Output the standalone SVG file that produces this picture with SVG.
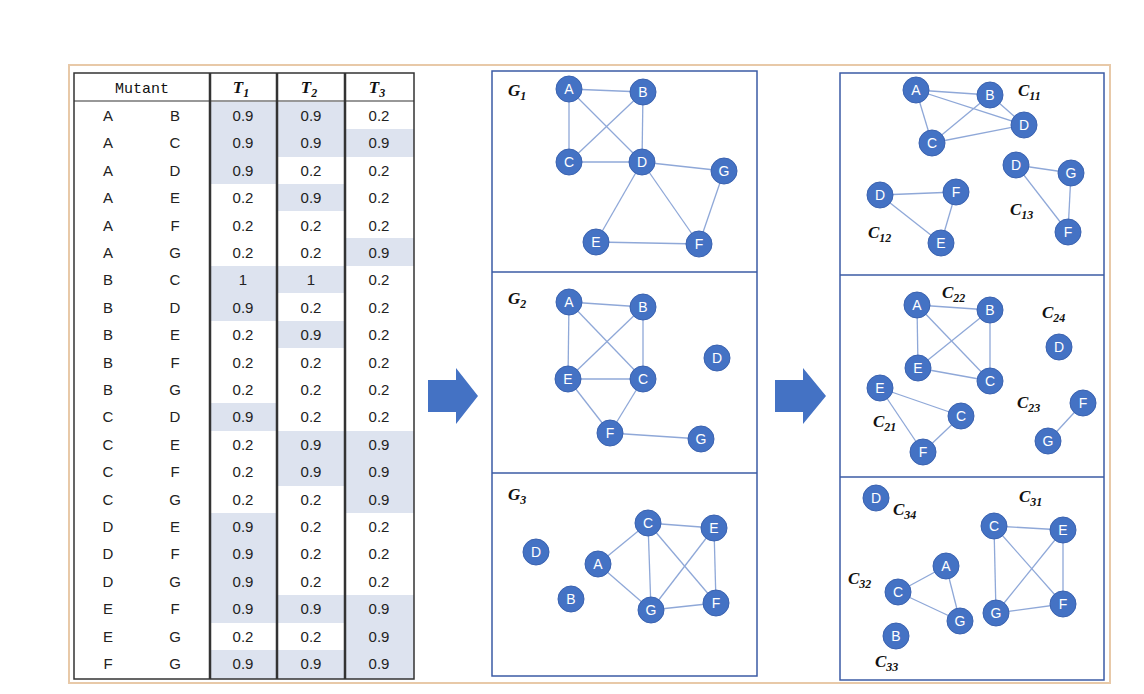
<svg xmlns="http://www.w3.org/2000/svg" width="1144" height="694" viewBox="0 0 1144 694">
<style>
.t{font-family:"Liberation Sans",Arial,sans-serif;font-size:15px;fill:#222;text-anchor:middle}
.h{font-family:"Liberation Serif",serif;font-style:italic;font-weight:bold;font-size:17px;fill:#111;text-anchor:middle}
.m{font-family:"Liberation Mono",monospace;font-size:15px;fill:#111;text-anchor:middle}
.lab{font-family:"Liberation Serif",serif;font-style:italic;font-weight:bold;font-size:17px;fill:#111}
.sub{font-size:12px}
.hl{fill:#dde3ef}
.n circle{fill:#4472c4;stroke:#3a62b0;stroke-width:1}
.n text{font-family:"Liberation Sans",Arial,sans-serif;font-size:14px;fill:#fff;text-anchor:middle;dominant-baseline:central}
.e line{stroke:#8fa8d8;stroke-width:1.3}
.panel{fill:#fff;stroke:#3b5ba5;stroke-width:1.5}
</style>
<rect width="1144" height="694" fill="#fff"/>
<rect x="69" y="65" width="1041" height="618" fill="none" stroke="#e8c9a8" stroke-width="2"/>
<g id="table">
<g id="hl">
<rect class="hl" x="210" y="102" width="67" height="82"/>
<rect class="hl" x="277" y="102" width="68" height="55"/>
<rect class="hl" x="345" y="129" width="69" height="28"/>
<rect class="hl" x="277" y="184" width="68" height="27"/>
<rect class="hl" x="345" y="238" width="69" height="28"/>
<rect class="hl" x="210" y="266" width="67" height="55"/>
<rect class="hl" x="277" y="266" width="68" height="27"/>
<rect class="hl" x="277" y="321" width="68" height="27"/>
<rect class="hl" x="210" y="403" width="67" height="28"/>
<rect class="hl" x="277" y="431" width="68" height="55"/>
<rect class="hl" x="345" y="431" width="69" height="82"/>
<rect class="hl" x="210" y="513" width="67" height="110"/>
<rect class="hl" x="277" y="595" width="68" height="28"/>
<rect class="hl" x="345" y="595" width="69" height="84"/>
<rect class="hl" x="210" y="650" width="135" height="29"/>
</g>
<rect x="74" y="73" width="340" height="606" fill="none" stroke="#333" stroke-width="1.5"/>
<line x1="74" y1="101" x2="414" y2="101" stroke="#333" stroke-width="1.2"/>
<g stroke="#333" stroke-width="2.5"><line x1="210" y1="73" x2="210" y2="679"/><line x1="277" y1="73" x2="277" y2="679"/><line x1="345" y1="73" x2="345" y2="679"/></g>
<text class="m" x="142" y="93">Mutant</text>
<text class="h" x="241" y="93">T<tspan class="sub" dy="4">1</tspan></text>
<text class="h" x="309" y="93">T<tspan class="sub" dy="4">2</tspan></text>
<text class="h" x="377" y="93">T<tspan class="sub" dy="4">3</tspan></text>
<g class="t">
<text x="108" y="121">A</text><text x="175" y="121">B</text><text x="243" y="121">0.9</text><text x="311" y="121">0.9</text><text x="379" y="121">0.2</text>
<text x="108" y="148">A</text><text x="175" y="148">C</text><text x="243" y="148">0.9</text><text x="311" y="148">0.9</text><text x="379" y="148">0.9</text>
<text x="108" y="176">A</text><text x="175" y="176">D</text><text x="243" y="176">0.9</text><text x="311" y="176">0.2</text><text x="379" y="176">0.2</text>
<text x="108" y="203">A</text><text x="175" y="203">E</text><text x="243" y="203">0.2</text><text x="311" y="203">0.9</text><text x="379" y="203">0.2</text>
<text x="108" y="231">A</text><text x="175" y="231">F</text><text x="243" y="231">0.2</text><text x="311" y="231">0.2</text><text x="379" y="231">0.2</text>
<text x="108" y="258">A</text><text x="175" y="258">G</text><text x="243" y="258">0.2</text><text x="311" y="258">0.2</text><text x="379" y="258">0.9</text>
<text x="108" y="285">B</text><text x="175" y="285">C</text><text x="243" y="285">1</text><text x="311" y="285">1</text><text x="379" y="285">0.2</text>
<text x="108" y="313">B</text><text x="175" y="313">D</text><text x="243" y="313">0.9</text><text x="311" y="313">0.2</text><text x="379" y="313">0.2</text>
<text x="108" y="340">B</text><text x="175" y="340">E</text><text x="243" y="340">0.2</text><text x="311" y="340">0.9</text><text x="379" y="340">0.2</text>
<text x="108" y="368">B</text><text x="175" y="368">F</text><text x="243" y="368">0.2</text><text x="311" y="368">0.2</text><text x="379" y="368">0.2</text>
<text x="108" y="395">B</text><text x="175" y="395">G</text><text x="243" y="395">0.2</text><text x="311" y="395">0.2</text><text x="379" y="395">0.2</text>
<text x="108" y="422">C</text><text x="175" y="422">D</text><text x="243" y="422">0.9</text><text x="311" y="422">0.2</text><text x="379" y="422">0.2</text>
<text x="108" y="450">C</text><text x="175" y="450">E</text><text x="243" y="450">0.2</text><text x="311" y="450">0.9</text><text x="379" y="450">0.9</text>
<text x="108" y="477">C</text><text x="175" y="477">F</text><text x="243" y="477">0.2</text><text x="311" y="477">0.9</text><text x="379" y="477">0.9</text>
<text x="108" y="505">C</text><text x="175" y="505">G</text><text x="243" y="505">0.2</text><text x="311" y="505">0.2</text><text x="379" y="505">0.9</text>
<text x="108" y="532">D</text><text x="175" y="532">E</text><text x="243" y="532">0.9</text><text x="311" y="532">0.2</text><text x="379" y="532">0.2</text>
<text x="108" y="559">D</text><text x="175" y="559">F</text><text x="243" y="559">0.9</text><text x="311" y="559">0.2</text><text x="379" y="559">0.2</text>
<text x="108" y="587">D</text><text x="175" y="587">G</text><text x="243" y="587">0.9</text><text x="311" y="587">0.2</text><text x="379" y="587">0.2</text>
<text x="108" y="614">E</text><text x="175" y="614">F</text><text x="243" y="614">0.9</text><text x="311" y="614">0.9</text><text x="379" y="614">0.9</text>
<text x="108" y="642">E</text><text x="175" y="642">G</text><text x="243" y="642">0.2</text><text x="311" y="642">0.2</text><text x="379" y="642">0.9</text>
<text x="108" y="669">F</text><text x="175" y="669">G</text><text x="243" y="669">0.9</text><text x="311" y="669">0.9</text><text x="379" y="669">0.9</text>
</g>
</g>
<g id="arrows" fill="#4472c4">
<polygon points="428,380 456,380 456,368 478,396 456,424 456,412 428,412"/>
<polygon points="775,380 803,380 803,368 826,396 803,424 803,412 775,412"/>
</g>
<rect class="panel" x="492" y="71" width="265" height="605"/>
<line x1="492" y1="272" x2="757" y2="272" stroke="#3b5ba5" stroke-width="1.5"/>
<line x1="492" y1="473" x2="757" y2="473" stroke="#3b5ba5" stroke-width="1.5"/>
<rect class="panel" x="840" y="73" width="264" height="607"/>
<line x1="840" y1="275" x2="1104" y2="275" stroke="#3b5ba5" stroke-width="1.5"/>
<line x1="840" y1="477" x2="1104" y2="477" stroke="#3b5ba5" stroke-width="1.5"/>
<g id="connectors" class="e">
<line x1="569" y1="89" x2="643" y2="92"/><line x1="569" y1="89" x2="569" y2="162"/><line x1="569" y1="89" x2="642" y2="162"/><line x1="643" y1="92" x2="569" y2="162"/><line x1="643" y1="92" x2="642" y2="162"/><line x1="569" y1="162" x2="642" y2="162"/><line x1="642" y1="162" x2="596" y2="242"/><line x1="642" y1="162" x2="699" y2="244"/><line x1="642" y1="162" x2="724" y2="171"/><line x1="596" y1="242" x2="699" y2="244"/><line x1="724" y1="171" x2="699" y2="244"/>
<line x1="569" y1="302" x2="643" y2="307"/><line x1="569" y1="302" x2="643" y2="379"/><line x1="569" y1="302" x2="568" y2="379"/><line x1="643" y1="307" x2="643" y2="379"/><line x1="643" y1="307" x2="568" y2="379"/><line x1="568" y1="379" x2="643" y2="379"/><line x1="643" y1="379" x2="610" y2="433"/><line x1="568" y1="379" x2="610" y2="433"/><line x1="610" y1="433" x2="701" y2="439"/>
<line x1="598" y1="564" x2="648" y2="523"/><line x1="598" y1="564" x2="651" y2="610"/><line x1="648" y1="523" x2="714" y2="528"/><line x1="648" y1="523" x2="651" y2="610"/><line x1="648" y1="523" x2="716" y2="603"/><line x1="714" y1="528" x2="651" y2="610"/><line x1="714" y1="528" x2="716" y2="603"/><line x1="651" y1="610" x2="716" y2="603"/>
<line x1="916" y1="90" x2="990" y2="95"/><line x1="916" y1="90" x2="932" y2="143"/><line x1="916" y1="90" x2="1024" y2="125"/><line x1="990" y1="95" x2="1024" y2="125"/><line x1="990" y1="95" x2="932" y2="143"/><line x1="932" y1="143" x2="1024" y2="125"/>
<line x1="1016" y1="165" x2="1071" y2="173"/><line x1="1071" y1="173" x2="1068" y2="232"/><line x1="1016" y1="165" x2="1068" y2="232"/>
<line x1="880" y1="195" x2="956" y2="192"/><line x1="880" y1="195" x2="941" y2="243"/><line x1="956" y1="192" x2="941" y2="243"/>
<line x1="917" y1="305" x2="990" y2="310"/><line x1="917" y1="305" x2="918" y2="368"/><line x1="917" y1="305" x2="990" y2="381"/><line x1="990" y1="310" x2="918" y2="368"/><line x1="990" y1="310" x2="990" y2="381"/><line x1="918" y1="368" x2="990" y2="381"/>
<line x1="880" y1="388" x2="961" y2="416"/><line x1="880" y1="388" x2="923" y2="452"/><line x1="961" y1="416" x2="923" y2="452"/><line x1="1083" y1="403" x2="1048" y2="441"/>
<line x1="994" y1="526" x2="1063" y2="530"/><line x1="994" y1="526" x2="996" y2="613"/><line x1="994" y1="526" x2="1063" y2="604"/><line x1="1063" y1="530" x2="996" y2="613"/><line x1="1063" y1="530" x2="1063" y2="604"/><line x1="996" y1="613" x2="1063" y2="604"/>
<line x1="946" y1="566" x2="898" y2="592"/><line x1="946" y1="566" x2="960" y2="621"/><line x1="898" y1="592" x2="960" y2="621"/>
</g>
<g class="n">
<g id="g1A"><circle cx="569" cy="89" r="13"/><text x="569" y="89">A</text></g>
<g id="g1B"><circle cx="643" cy="92" r="13"/><text x="643" y="92">B</text></g>
<g id="g1C"><circle cx="569" cy="162" r="13"/><text x="569" y="162">C</text></g>
<g id="g1D"><circle cx="642" cy="162" r="13"/><text x="642" y="162">D</text></g>
<g id="g1G"><circle cx="724" cy="171" r="13"/><text x="724" y="171">G</text></g>
<g id="g1E"><circle cx="596" cy="242" r="13"/><text x="596" y="242">E</text></g>
<g id="g1F"><circle cx="699" cy="244" r="13"/><text x="699" y="244">F</text></g>
<g id="g2A"><circle cx="569" cy="302" r="13"/><text x="569" y="302">A</text></g>
<g id="g2B"><circle cx="643" cy="307" r="13"/><text x="643" y="307">B</text></g>
<g id="g2E"><circle cx="568" cy="379" r="13"/><text x="568" y="379">E</text></g>
<g id="g2C"><circle cx="643" cy="379" r="13"/><text x="643" y="379">C</text></g>
<g id="g2D"><circle cx="717" cy="358" r="13"/><text x="717" y="358">D</text></g>
<g id="g2F"><circle cx="610" cy="433" r="13"/><text x="610" y="433">F</text></g>
<g id="g2G"><circle cx="701" cy="439" r="13"/><text x="701" y="439">G</text></g>
<g id="g3D"><circle cx="536" cy="552" r="13"/><text x="536" y="552">D</text></g>
<g id="g3A"><circle cx="598" cy="564" r="13"/><text x="598" y="564">A</text></g>
<g id="g3B"><circle cx="571" cy="599" r="13"/><text x="571" y="599">B</text></g>
<g id="g3C"><circle cx="648" cy="523" r="13"/><text x="648" y="523">C</text></g>
<g id="g3E"><circle cx="714" cy="528" r="13"/><text x="714" y="528">E</text></g>
<g id="g3G"><circle cx="651" cy="610" r="13"/><text x="651" y="610">G</text></g>
<g id="g3F"><circle cx="716" cy="603" r="13"/><text x="716" y="603">F</text></g>
<g id="c11A"><circle cx="916" cy="90" r="13"/><text x="916" y="90">A</text></g>
<g id="c11B"><circle cx="990" cy="95" r="13"/><text x="990" y="95">B</text></g>
<g id="c11D"><circle cx="1024" cy="125" r="13"/><text x="1024" y="125">D</text></g>
<g id="c11C"><circle cx="932" cy="143" r="13"/><text x="932" y="143">C</text></g>
<g id="c13D"><circle cx="1016" cy="165" r="13"/><text x="1016" y="165">D</text></g>
<g id="c13G"><circle cx="1071" cy="173" r="13"/><text x="1071" y="173">G</text></g>
<g id="c13F"><circle cx="1068" cy="232" r="13"/><text x="1068" y="232">F</text></g>
<g id="c12D"><circle cx="880" cy="195" r="13"/><text x="880" y="195">D</text></g>
<g id="c12F"><circle cx="956" cy="192" r="13"/><text x="956" y="192">F</text></g>
<g id="c12E"><circle cx="941" cy="243" r="13"/><text x="941" y="243">E</text></g>
<g id="c22A"><circle cx="917" cy="305" r="13"/><text x="917" y="305">A</text></g>
<g id="c22B"><circle cx="990" cy="310" r="13"/><text x="990" y="310">B</text></g>
<g id="c22E"><circle cx="918" cy="368" r="13"/><text x="918" y="368">E</text></g>
<g id="c22C"><circle cx="990" cy="381" r="13"/><text x="990" y="381">C</text></g>
<g id="c24D"><circle cx="1059" cy="347" r="13"/><text x="1059" y="347">D</text></g>
<g id="c21E"><circle cx="880" cy="388" r="13"/><text x="880" y="388">E</text></g>
<g id="c21C"><circle cx="961" cy="416" r="13"/><text x="961" y="416">C</text></g>
<g id="c21F"><circle cx="923" cy="452" r="13"/><text x="923" y="452">F</text></g>
<g id="c23F"><circle cx="1083" cy="403" r="13"/><text x="1083" y="403">F</text></g>
<g id="c23G"><circle cx="1048" cy="441" r="13"/><text x="1048" y="441">G</text></g>
<g id="c34D"><circle cx="876" cy="498" r="13"/><text x="876" y="498">D</text></g>
<g id="c31C"><circle cx="994" cy="526" r="13"/><text x="994" y="526">C</text></g>
<g id="c31E"><circle cx="1063" cy="530" r="13"/><text x="1063" y="530">E</text></g>
<g id="c31G"><circle cx="996" cy="613" r="13"/><text x="996" y="613">G</text></g>
<g id="c31F"><circle cx="1063" cy="604" r="13"/><text x="1063" y="604">F</text></g>
<g id="c32A"><circle cx="946" cy="566" r="13"/><text x="946" y="566">A</text></g>
<g id="c32C"><circle cx="898" cy="592" r="13"/><text x="898" y="592">C</text></g>
<g id="c32G"><circle cx="960" cy="621" r="13"/><text x="960" y="621">G</text></g>
<g id="c33B"><circle cx="896" cy="636" r="13"/><text x="896" y="636">B</text></g>
</g>
<g id="labels" class="lab">
<text x="508" y="96">G<tspan class="sub" dy="4">1</tspan></text>
<text x="508" y="304">G<tspan class="sub" dy="4">2</tspan></text>
<text x="508" y="500">G<tspan class="sub" dy="4">3</tspan></text>
<text x="1018" y="96">C<tspan class="sub" dy="4">11</tspan></text>
<text x="1010" y="215">C<tspan class="sub" dy="4">13</tspan></text>
<text x="868" y="238">C<tspan class="sub" dy="4">12</tspan></text>
<text x="942" y="298">C<tspan class="sub" dy="4">22</tspan></text>
<text x="1042" y="318">C<tspan class="sub" dy="4">24</tspan></text>
<text x="1017" y="408">C<tspan class="sub" dy="4">23</tspan></text>
<text x="873" y="427">C<tspan class="sub" dy="4">21</tspan></text>
<text x="893" y="515">C<tspan class="sub" dy="4">34</tspan></text>
<text x="1019" y="502">C<tspan class="sub" dy="4">31</tspan></text>
<text x="848" y="584">C<tspan class="sub" dy="4">32</tspan></text>
<text x="875" y="667">C<tspan class="sub" dy="4">33</tspan></text>
</g>
</svg>
